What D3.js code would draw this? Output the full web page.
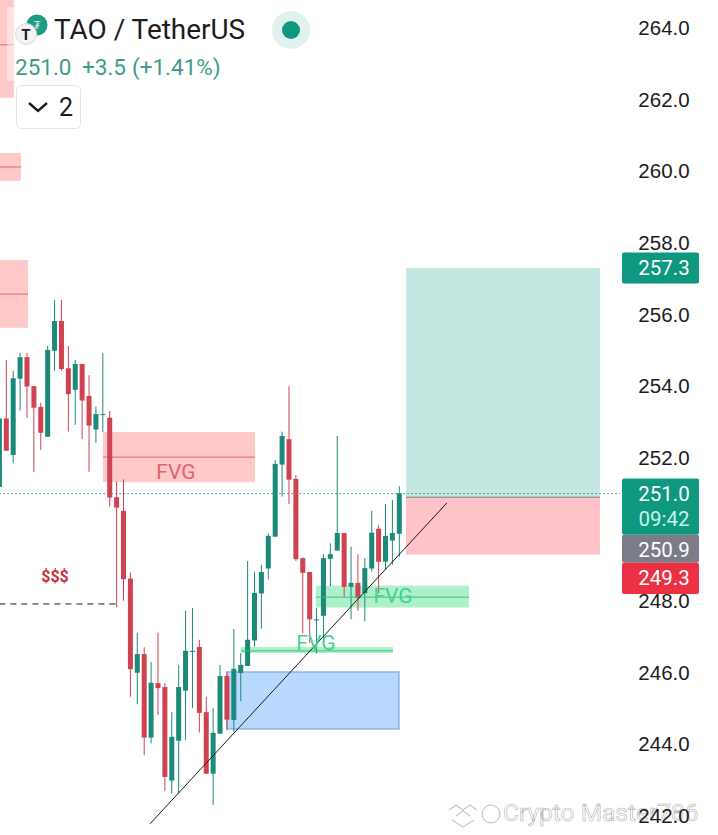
<!DOCTYPE html>
<html lang="en">
<head>
    <meta charset="UTF-8">
    <title>TAO / TetherUS</title>
    <script src="https://d3js.org/d3.v7.min.js"></script>
    <style>
        html, body { margin: 0; padding: 0; background: #fff; overflow: hidden; }
        svg { display: block; font-family: Roboto, sans-serif; }
        .axis text { font-size: 20.5px; fill: #1c1c1f; text-anchor: middle; }
    </style>
</head>
<body>
    <svg width="718" height="835"></svg>

    <script>
        // candles, oldest first
        const opens = [251.19,253.10,252.08,254.21,254.81,254.00,253.42,252.59,254.99,255.82,254.50,253.90,254.62,253.73,252.79,253.20,253.12,250.90,250.52,248.63,246.00,246.52,244.19,245.71,245.60,242.99,244.10,245.50,246.58,246.72,244.90,243.18,244.30,245.91,244.68,245.99,246.19,246.90,248.21,248.91,249.80,251.81,252.52,251.41,249.20,248.81,247.46,247.59,249.18,249.41,249.90,248.40,248.51,248.22,248.91,250.02,249.10,249.69,249.88];
        const highs = [253.34,254.73,254.43,254.93,254.93,254.00,253.54,255.13,256.41,256.41,255.12,254.73,254.62,254.31,253.43,254.93,253.31,251.33,251.40,248.80,247.12,246.71,246.30,247.12,245.71,244.90,246.22,247.73,247.81,246.92,245.33,245.01,246.22,246.01,247.22,246.55,249.12,248.82,249.01,249.89,251.94,252.73,254.00,251.52,249.21,248.82,247.80,249.31,249.61,252.61,249.90,249.52,249.31,249.20,250.52,250.12,250.71,250.82,251.21];
        const lows = [251.10,252.19,251.85,253.32,253.11,251.61,252.22,252.59,254.43,254.43,252.73,252.92,252.52,251.61,252.42,252.72,250.64,247.83,248.01,245.33,245.12,243.70,244.03,244.82,242.70,242.63,242.63,244.12,245.01,244.33,243.18,242.31,244.30,244.40,244.35,245.21,246.19,246.73,247.23,248.61,249.80,250.92,250.71,249.12,247.10,246.83,246.54,246.83,248.42,249.41,248.12,247.49,247.73,247.43,248.82,248.22,248.87,249.01,249.24];
        const closes = [253.10,252.20,254.22,254.81,253.99,253.40,252.70,255.01,255.82,254.48,253.78,254.62,253.60,252.90,253.22,253.22,250.89,250.61,248.61,246.10,246.52,244.19,245.72,245.57,243.09,244.21,245.60,246.61,246.61,244.88,243.18,244.32,245.91,244.69,246.11,246.22,246.92,248.23,248.81,249.82,251.83,252.61,251.39,249.17,248.79,247.49,247.49,249.20,249.31,249.90,248.40,248.51,248.08,248.92,249.91,249.10,249.82,249.90,251.01];

        const priceTicks = [264,262,260,258,256,254,252,248,246,244,242];

        // supply/demand zones: [left bar, right bar, top price, bottom price, mid line price]
        const redZones = [
            [0, 2.1, 265, 262.05, 263.53],
            [0, 3.13, 260.51, 259.73, 260.12],
            [0, 4.15, 257.52, 255.63, 256.57],
            [15.03, 37.07, 252.72, 251.32, 252.02]
        ];
        const greenZones = [
            [35.04, 57.08, 246.72, 246.55, 246.61],
            [45.9, 68.1, 248.43, 247.82, 248.11]
        ];
        const blueZone = [33, 57.95, 246.02, 244.43];

        const fvgLabels = [
            [25.6, 251.41, "#e0626c"],
            [45.9, 246.63, "#45d08f"],
            [57.1, 247.95, "#45d08f"]
        ];

        // long position tool
        const positionBars = [58.97, 87.1];
        const targetPrice = 257.3, entryPrice = 250.9, stopPrice = 249.3;
        const lastPrice = 251.0;

        const trendBars = [21.84, 64.9], trendPrices = [241.78, 250.74];
        const liquidityBars = [0, 17], liquidityPrice = 247.92;
        const lastLineBars = [0, 90];

        const priceTags = [
            { top: 257.73, bottom: 256.87, color: "#0e9880", lines: ["257.3"] },
            { top: 251.42, bottom: 249.85, color: "#0e9880", lines: ["251.0", "09:42"] },
            { top: 249.85, bottom: 249.07, color: "#7b7c88", lines: ["250.9"] },
            { top: 249.07, bottom: 248.2, color: "#ec3145", lines: ["249.3"] }
        ];

        const upColor = "#1b8a78", downColor = "#cf4350";

        const svg = d3.select("svg");
        const x = d3.scaleLinear().domain([0, 58]).range([-0.6, 399.3]);
        const y = d3.scaleLinear().domain([242, 264]).range([816, 28]);

        function zoneRect(z, fill, g) {
            g.append("rect")
                .attr("x", x(z[0]))
                .attr("y", y(z[2]))
                .attr("width", x(z[1]) - x(z[0]))
                .attr("height", y(z[3]) - y(z[2]))
                .attr("fill", fill);
        }

        const back = svg.append("g");

        // position tool
        back.append("rect")
            .attr("x", x(positionBars[0])).attr("y", y(targetPrice))
            .attr("width", x(positionBars[1]) - x(positionBars[0]))
            .attr("height", y(entryPrice) - y(targetPrice))
            .attr("fill", "#c4e8e1");
        back.append("rect")
            .attr("x", x(positionBars[0])).attr("y", y(entryPrice))
            .attr("width", x(positionBars[1]) - x(positionBars[0]))
            .attr("height", y(stopPrice) - y(entryPrice))
            .attr("fill", "#ffc2c9");
        back.append("line")
            .attr("x1", x(positionBars[0])).attr("x2", x(positionBars[1]))
            .attr("y1", y(entryPrice)).attr("y2", y(entryPrice))
            .attr("stroke", "#77787f").attr("stroke-width", 1);

        redZones.forEach(z => {
            zoneRect(z, "#ffc8c9", back);
            back.append("line")
                .attr("x1", x(z[0])).attr("x2", x(z[1]))
                .attr("y1", y(z[4])).attr("y2", y(z[4]))
                .attr("stroke", "#dc6a6e").attr("stroke-width", 1);
        });

        zoneRect(greenZones[1], "#aef0c9", back);
        zoneRect(greenZones[0], "#aef0c9", back);

        // blue box
        back.append("rect")
            .attr("x", x(blueZone[0])).attr("y", y(blueZone[2]))
            .attr("width", x(blueZone[1]) - x(blueZone[0]))
            .attr("height", y(blueZone[3]) - y(blueZone[2]))
            .attr("fill", "#b9d8fd")
            .attr("stroke", "#8db5dc").attr("stroke-width", 1.5);

        // last price dotted line
        back.append("line")
            .attr("x1", x(lastLineBars[0])).attr("x2", 620)
            .attr("y1", y(lastPrice)).attr("y2", y(lastPrice))
            .attr("stroke", "#1f8a78").attr("stroke-width", 1)
            .attr("stroke-dasharray", "1.5,2.5");

        // candles
        const candles = svg.append("g").selectAll("g")
            .data(opens.map((o, i) => i))
            .enter().append("g")
            .attr("fill", i => closes[i] >= opens[i] ? upColor : downColor)
            .attr("stroke", i => closes[i] >= opens[i] ? upColor : downColor);

        candles.append("line")
            .attr("x1", i => x(i)).attr("x2", i => x(i))
            .attr("y1", i => y(highs[i])).attr("y2", i => y(lows[i]))
            .attr("stroke-width", 1);

        candles.append("rect")
            .attr("x", i => x(i) - 2.5)
            .attr("width", 5)
            .attr("y", i => y(Math.max(opens[i], closes[i])))
            .attr("height", i => Math.max(1, Math.abs(y(opens[i]) - y(closes[i]))))
            .attr("stroke", "none");

        // zone mid lines that sit above the candles
        const front = svg.append("g");
        greenZones.forEach(z => {
            front.append("line")
                .attr("x1", x(z[0])).attr("x2", x(z[1]))
                .attr("y1", y(z[4])).attr("y2", y(z[4]))
                .attr("stroke", "#35c47e").attr("stroke-width", 1);
        });

        // trend line
        front.append("line")
            .attr("x1", x(trendBars[0])).attr("x2", x(trendBars[1]))
            .attr("y1", y(trendPrices[0])).attr("y2", y(trendPrices[1]))
            .attr("stroke", "#1a1a1a").attr("stroke-width", 1);

        // liquidity level
        front.append("line")
            .attr("x1", x(liquidityBars[0])).attr("x2", x(liquidityBars[1]) + 3)
            .attr("y1", y(liquidityPrice)).attr("y2", y(liquidityPrice))
            .attr("stroke", "#1a1a1a").attr("stroke-width", 1)
            .attr("stroke-dasharray", "6,5");

        front.append("text")
            .attr("x", 55).attr("y", 582)
            .attr("text-anchor", "middle")
            .attr("font-size", 16).attr("font-weight", 700)
            .attr("fill", "#c8323c")
            .text("$$$");

        front.selectAll(".fvg")
            .data(fvgLabels)
            .enter().append("text")
            .attr("class", "fvg")
            .attr("x", d => x(d[0]))
            .attr("y", d => y(d[1]))
            .attr("text-anchor", "middle")
            .attr("font-size", 21)
            .attr("fill", d => d[2])
            .text("FVG");

        // watermark
        const mark = svg.append("g");
        mark.append("text")
            .attr("x", 503).attr("y", 821)
            .attr("font-size", 24.5)
            .attr("fill", "#fff")
            .attr("stroke", "#b0b0b0").attr("stroke-width", 0.6)
            .text("Crypto Master786");
        mark.append("path")
            .attr("d", "M449 810l7 -5l7 5M463 810l7 -5l7 5M456 816l7 -5l7 5M452 820l11 7l11 -7")
            .attr("fill", "none").attr("stroke", "#c8c8c8").attr("stroke-width", 1.2);
        mark.append("circle")
            .attr("cx", 491).attr("cy", 814).attr("r", 9)
            .attr("fill", "#fff").attr("stroke", "#b8b8b8").attr("stroke-width", 1);

        // price axis
        svg.append("g")
            .attr("class", "axis")
            .attr("transform", "translate(664,0)")
            .call(d3.axisRight(y).tickValues(priceTicks).tickFormat(d3.format(".1f")).tickSize(0).tickPadding(0))
            .call(g => g.select(".domain").remove());

        // price tags
        priceTags.forEach(t => {
            const top = y(t.top), bottom = y(t.bottom);
            svg.append("rect")
                .attr("x", 622).attr("y", top)
                .attr("width", 77).attr("height", bottom - top)
                .attr("rx", 2)
                .attr("fill", t.color);
            t.lines.forEach((s, i) => {
                svg.append("text")
                    .attr("x", 664)
                    .attr("y", top + 22.5 + i * 25)
                    .attr("text-anchor", "middle")
                    .attr("font-size", 20.5)
                    .attr("fill", i ? "#c9f3e8" : "#fff")
                    .text(s);
            });
        });

        // header legend
        const legend = svg.append("g");
        legend.append("rect")
            .attr("x", 7).attr("y", 7).attr("width", 7).attr("height", 74)
            .attr("fill", "#fff").attr("opacity", 0.45);
        legend.append("circle").attr("cx", 37).attr("cy", 25).attr("r", 10.5).attr("fill", "#1f9a84");
        legend.append("text")
            .attr("x", 37).attr("y", 29).attr("text-anchor", "middle")
            .attr("font-size", 11).attr("fill", "#d6f3ec").text("₮");
        legend.append("circle")
            .attr("cx", 26).attr("cy", 34).attr("r", 10.5)
            .attr("fill", "#f1f3f5").attr("stroke", "#dadada");
        legend.append("text")
            .attr("x", 26).attr("y", 40).attr("text-anchor", "middle")
            .attr("font-size", 15).attr("font-weight", 700).attr("fill", "#1c1c1f").text("T");
        legend.append("text")
            .attr("x", 54).attr("y", 39)
            .attr("font-size", 27.9).attr("fill", "#1c1c1f")
            .text("TAO / TetherUS");
        legend.append("circle").attr("cx", 291).attr("cy", 30).attr("r", 19).attr("fill", "#e0f2ee");
        legend.append("circle").attr("cx", 291).attr("cy", 30).attr("r", 9).attr("fill", "#0e9880");

        legend.append("text")
            .attr("x", 15).attr("y", 75)
            .attr("font-size", 22.5).attr("fill", "#3e9b8c").text("251.0");
        legend.append("text")
            .attr("x", 82).attr("y", 75)
            .attr("font-size", 22.5).attr("fill", "#3e9b8c").text("+3.5");
        legend.append("text")
            .attr("x", 132).attr("y", 75)
            .attr("font-size", 22.5).attr("fill", "#3e9b8c").text("(+1.41%)");

        legend.append("rect")
            .attr("x", 16.5).attr("y", 85.5).attr("width", 64).attr("height", 43).attr("rx", 5)
            .attr("fill", "#fff").attr("stroke", "#e2e3e6");
        legend.append("path")
            .attr("d", "M29 103l9 8l9 -8")
            .attr("fill", "none").attr("stroke", "#1c1c1f").attr("stroke-width", 2.4);
        legend.append("text")
            .attr("x", 59).attr("y", 116)
            .attr("font-size", 25).attr("fill", "#1c1c1f").text("2");
    </script>
</body>
</html>
